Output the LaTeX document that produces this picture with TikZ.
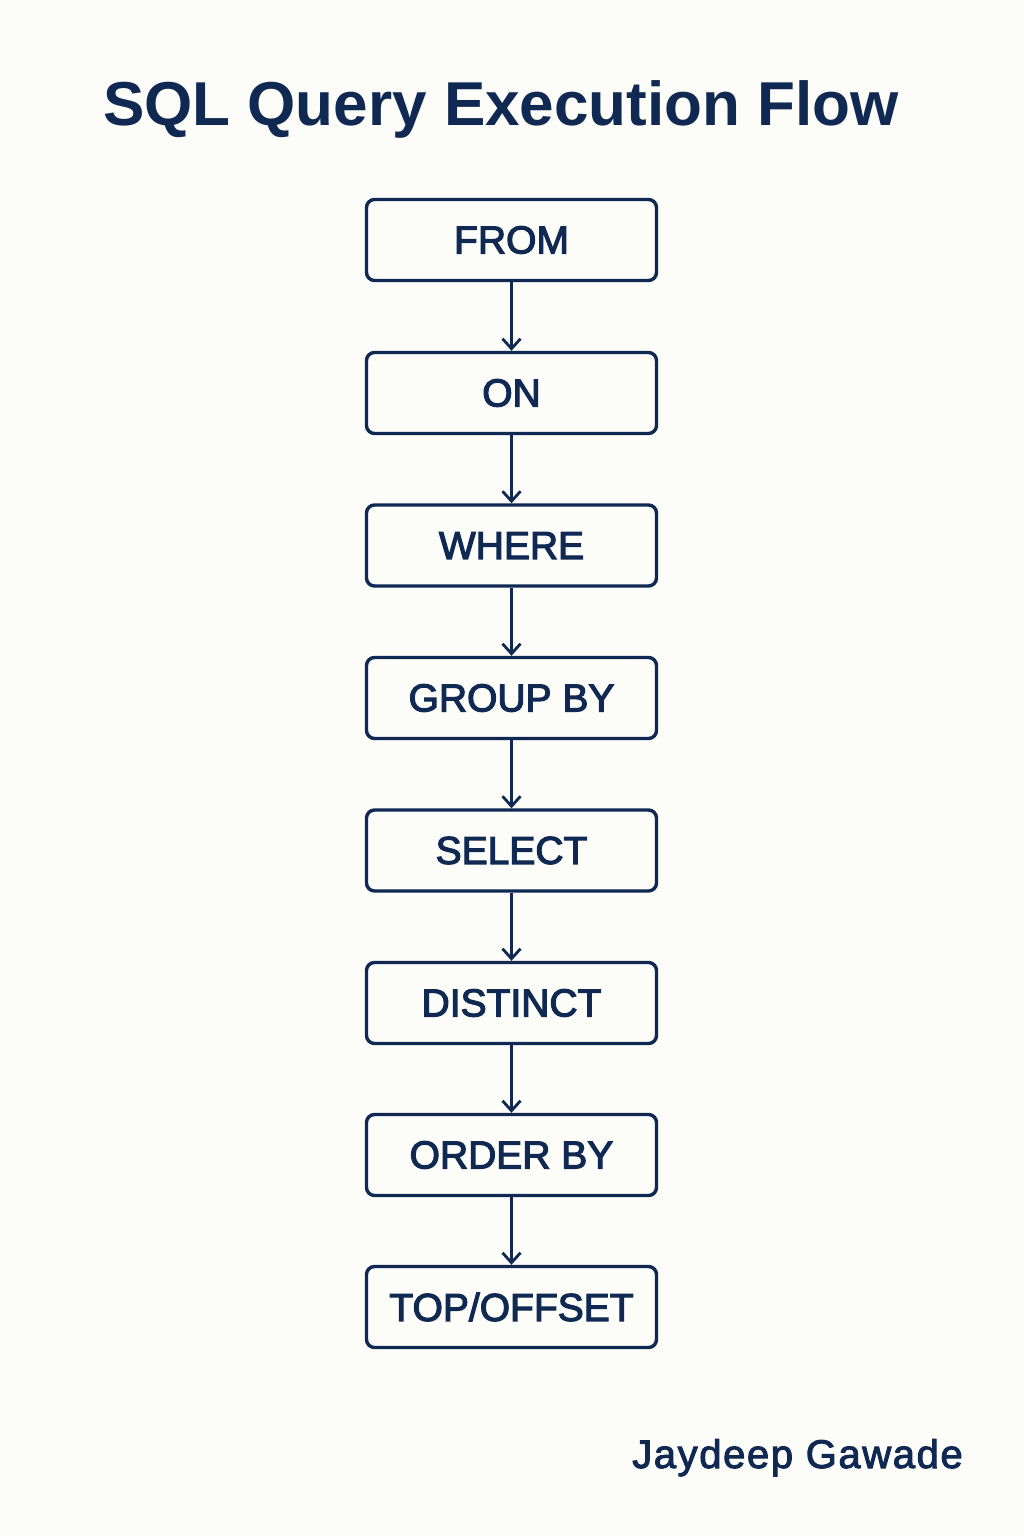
\documentclass[tikz,border=0pt]{standalone}
\usepackage{fontspec}
\setmainfont{Liberation Sans}
\newfontfamily\boxfont{Liberation Sans}[FakeBold=3]
\newfontfamily\authorfont{Liberation Sans}[FakeBold=2.5,LetterSpace=4]
\usetikzlibrary{arrows.meta}
\definecolor{navy}{RGB}{16,41,82}
\definecolor{bg}{RGB}{252,252,249}
\tikzset{
  stepbox/.style={draw=navy, line width=3.4pt, rounded corners=8pt, minimum width=290pt, minimum height=81pt, inner sep=0pt, text=navy, font=\boxfont\fontsize{39}{47}\selectfont},
  flow/.style={draw=navy, line width=2.8pt, -{Straight Barb[length=10pt,width=18pt,line width=2.8pt]}}
}
\begin{document}
\begin{tikzpicture}[x=1pt,y=-1pt]
\fill[bg] (0,0) rectangle (1024,1536);
\useasboundingbox (0,0) rectangle (1024,1536);
\node[anchor=base, text=navy, font=\bfseries\fontsize{62}{70}\selectfont, inner sep=0pt] (title) at (501,125) {SQL Query Execution Flow};
\node[stepbox] (from) at (511.5,240) {FROM};
\node[stepbox] (on) at (511.5,393) {ON};
\node[stepbox] (where) at (511.5,545.5) {WHERE};
\node[stepbox] (group) at (511.5,698) {GROUP BY};
\node[stepbox] (select) at (511.5,850.5) {SELECT};
\node[stepbox] (distinct) at (511.5,1003) {DISTINCT};
\node[stepbox] (order) at (511.5,1155) {ORDER BY};
\node[stepbox] (top) at (511.5,1307) {TOP/OFFSET};
\foreach \a/\b in {from/on,on/where,where/group,group/select,select/distinct,distinct/order,order/top}
  \draw[flow] (\a.south) -- (\b.north);
\node[anchor=base east, text=navy, font=\authorfont\fontsize{40}{48}\selectfont, inner sep=0pt] (author) at (963,1468) {Jaydeep Gawade};
\end{tikzpicture}
\end{document}
